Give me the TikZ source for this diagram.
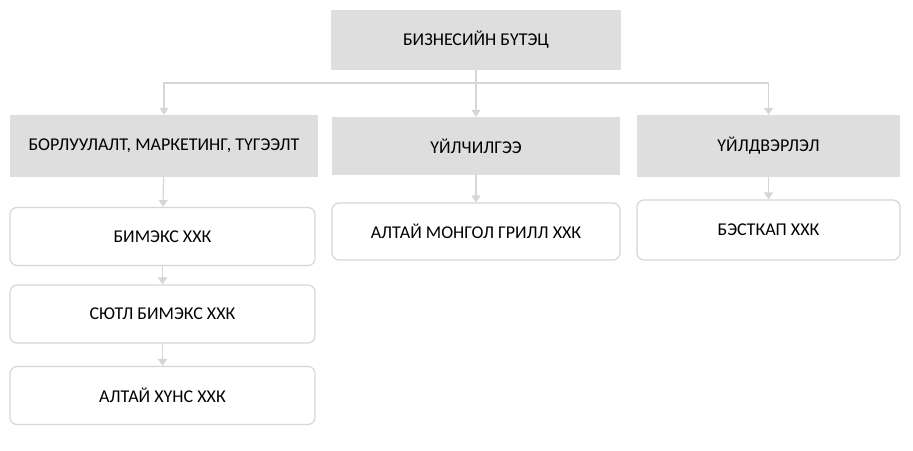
\documentclass[tikz,border=0pt]{standalone}
\usepackage{fontspec}
\setmainfont{Carlito}
\usetikzlibrary{arrows.meta}
\definecolor{hdrgray}{RGB}{222,222,222}
\definecolor{linegray}{RGB}{214,214,214}
\begin{document}
\begin{tikzpicture}[x=1pt,y=-1pt,
every node/.style={font=\fontsize{18}{21}\selectfont, inner sep=0pt},
hdr/.style={fill=hdrgray, minimum height=60pt},
firm/.style={draw=linegray, line width=1.2pt, fill=white, rounded corners=7pt, minimum height=58pt},
link/.style={draw=linegray, line width=1.2pt, -{Triangle[width=9pt,length=7pt]}}
]
\useasboundingbox (0,0) rectangle (913,450);
\node[hdr, minimum width=290pt] at (476,40) (top) {БИЗНЕСИЙН БҮТЭЦ};
\node[hdr, minimum width=308pt, minimum height=62pt] at (164,146) (sales) {БОРЛУУЛАЛТ, МАРКЕТИНГ, ТҮГЭЭЛТ};
\node[hdr, minimum width=288pt, minimum height=58pt] at (476,146) (serv) {ҮЙЛЧИЛГЭЭ};
\node[hdr, minimum width=263pt, minimum height=62pt] at (768.5,146) (prod) {ҮЙЛДВЭРЛЭЛ};

\node[firm, minimum width=305pt] at (162.5,236.5) (bimex) {БИМЭКС ХХК};
\node[firm, minimum width=305pt] at (162.5,314) (sutl) {СЮТЛ БИМЭКС ХХК};
\node[firm, minimum width=305pt] at (162.5,395.5) (huns) {АЛТАЙ ХҮНС ХХК};
\node[firm, minimum width=288pt, minimum height=57pt] at (476,231.5) (grill) {АЛТАЙ МОНГОЛ ГРИЛЛ ХХК};
\node[firm, minimum width=263pt, minimum height=60pt] at (768.5,230) (bestkap) {БЭСТКАП ХХК};

\coordinate (jn) at (476,83);
\draw[draw=linegray, line width=1.2pt] (top.south) -- (jn);
\draw[link] (jn) -| (sales.north);
\draw[link] (jn) -- (serv.north);
\draw[link] (jn) -| (prod.north);
\draw[link] (sales) -- (bimex);
\draw[link] (bimex) -- (sutl);
\draw[link] (sutl) -- (huns);
\draw[link] (serv) -- (grill);
\draw[link] (prod) -- (bestkap);
\end{tikzpicture}
\end{document}
